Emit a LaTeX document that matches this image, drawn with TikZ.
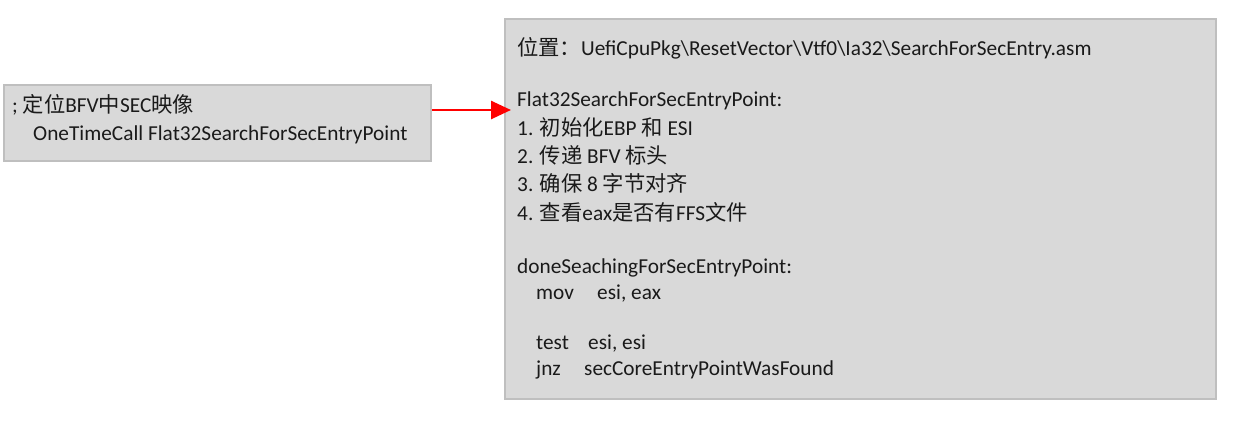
\documentclass[tikz,border=0pt]{standalone}
\usepackage{fontspec}
\setmainfont{Carlito}
\newfontfamily\cjk{Noto Sans CJK SC}
\usetikzlibrary{arrows.meta}
\definecolor{boxfill}{HTML}{D9D9D9}
\definecolor{boxline}{HTML}{BFBFBF}
\definecolor{txt}{HTML}{1A1A1A}
\tikzset{
  box/.style={draw=boxline, fill=boxfill, line width=2pt, anchor=north west, inner sep=0pt},
  rtxt/.style={anchor=base west, inner sep=0pt, text=txt, font=\fontsize{21.3}{21.3}\selectfont},
  ltxt/.style={anchor=base west, inner sep=0pt, text=txt, font=\fontsize{21.3}{21.3}\selectfont},
  link/.style={draw=red, line width=2.6pt, -{Triangle[length=20pt,width=18pt]}}
}
\begin{document}
\begin{tikzpicture}[x=1pt,y=-1pt]
\useasboundingbox (0,0) rectangle (1233,421);
% boxes
\node (lbox) [box, minimum width=427pt, minimum height=76pt] at (3,84) {};
\node (rbox) [box, minimum width=711pt, minimum height=380pt] at (504,18) {};
% left text
\node (l1) [ltxt] at (12,112) {; {\cjk 定位}BFV{\cjk 中}SEC{\cjk 映像}};
\node (l2) [ltxt] at (33,140) {OneTimeCall Flat32SearchForSecEntryPoint};
% right text
\node (r1) [rtxt] at (517,55) {{\cjk 位置：}UefiCpuPkg\textbackslash ResetVector\textbackslash Vtf0\textbackslash Ia32\textbackslash SearchForSecEntry.asm};
\node (r2) [rtxt] at (517,106) {Flat32SearchForSecEntryPoint:};
\node (r3) [rtxt] at (517,135) {1. {\cjk 初始化}EBP {\cjk 和} ESI};
\node (r4) [rtxt] at (517,163) {2. {\cjk 传递} BFV {\cjk 标头}};
\node (r5) [rtxt] at (517,191) {3. {\cjk 确保} 8 {\cjk 字节对齐}};
\node (r6) [rtxt] at (517,220) {4. {\cjk 查看}eax{\cjk 是否有}FFS{\cjk 文件}};
\node (r7) [rtxt] at (517,273) {doneSeachingForSecEntryPoint:};
\node (r8) [rtxt] at (536,299) {\makebox[61pt][l]{mov}esi, eax};
\node (r9) [rtxt] at (536,349) {\makebox[52pt][l]{test}esi, esi};
\node (r10) [rtxt] at (536,375) {\makebox[48pt][l]{jnz}secCoreEntryPointWasFound};
% connector
\coordinate (arrE) at (511,110);
\draw[link] (lbox.east |- arrE) -- (arrE);
\end{tikzpicture}
\end{document}
